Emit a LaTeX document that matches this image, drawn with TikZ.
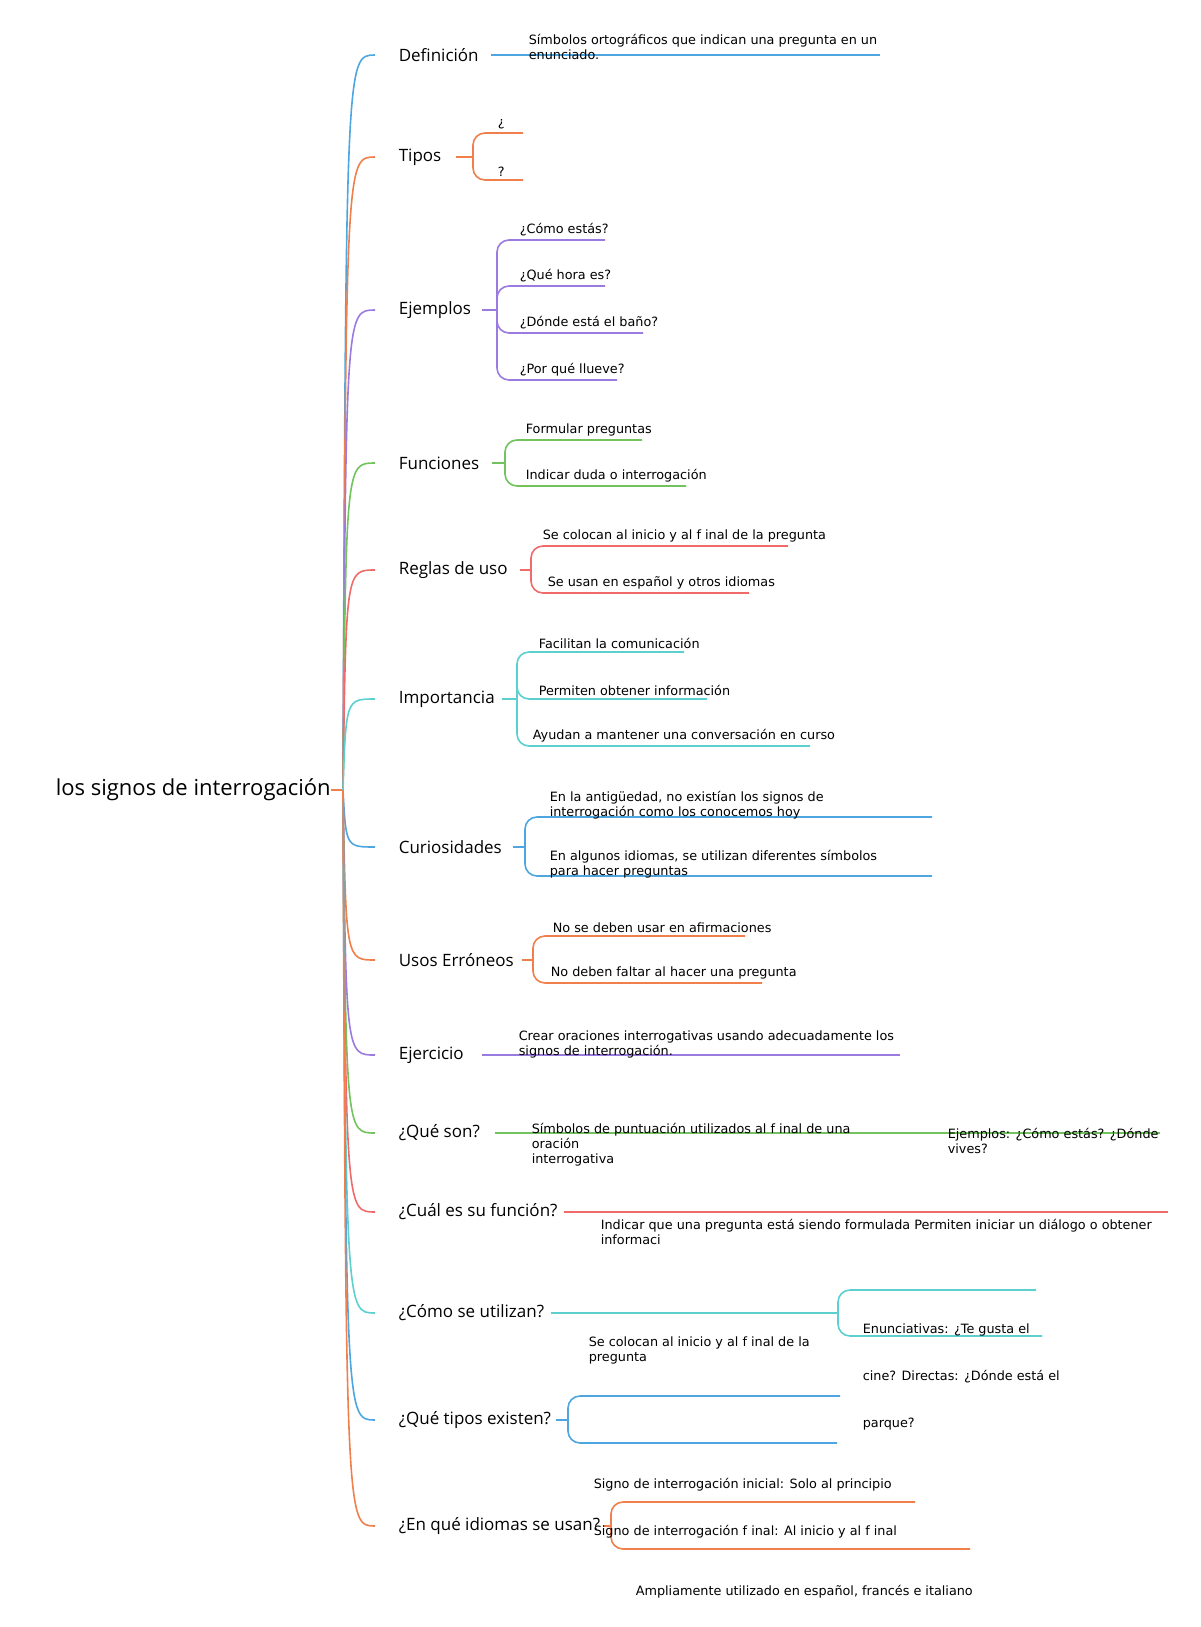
\documentclass[tikz,border=0pt]{standalone}
\usepackage{fontspec}
\setmainfont{DejaVu Sans}
\newfontfamily\lab{Open Sans}
\begin{document}
\begin{tikzpicture}[x=1pt,y=-1pt,line width=1.6pt,
  lb/.style={anchor=west,font=\lab\fontsize{17}{20}\selectfont,inner sep=0},
  tx/.style={anchor=south west,font=\fontsize{12.8}{15}\selectfont,inner sep=1pt,align=left},
  tn/.style={anchor=north west,font=\fontsize{12.8}{15}\selectfont,inner sep=0,align=left}]
\definecolor{cb}{HTML}{4DA6E0}\definecolor{co}{HTML}{F07F4C}\definecolor{cp}{HTML}{9B7BE0}
\definecolor{cg}{HTML}{72C35E}\definecolor{cr}{HTML}{F06A6A}\definecolor{ct}{HTML}{5CCFCF}
\useasboundingbox (0,0) rectangle (1200,1627);
\newcommand\ch[5]{\draw[#1,rounded corners=12pt] (#2,#3) |- (#5,#4);}
\node[anchor=west,inner sep=0,font=\lab\fontsize{22}{26}\selectfont] (root) at (55,790) {los signos de interrogación};
\coordinate (r) at (343,790);
\draw[co] (root.east) -- (r);
\foreach \y/\c/\t/\n in {55/cb/Definición/a,157/co/Tipos/b,310/cp/Ejemplos/c,463/cg/Funciones/d,570/cr/Reglas de uso/e,699/ct/Importancia/f,847/cb/Curiosidades/g,960/co/Usos Erróneos/h,1055/cp/Ejercicio/i,1133/cg/¿Qué son?/j,1212/cr/¿Cuál es su función?/k,1313/ct/¿Cómo se utilizan?/l,1420/cb/¿Qué tipos existen?/m,1526/co/¿En qué idiomas se usan?/n}{
  \node[lb] (\n) at (398,\y) {\t};
  \draw[\c] (r) .. controls (346,\y) .. (375,\y);
}
% Definicion
\draw[cb] (a.east)++(12,0) -- (880,55);
\node[tn] at (528,33) {Símbolos ortográficos que indican una pregunta en un\\enunciado.};
% Tipos
\draw[co] (b.east)++(14,0) -- (473,157);
\ch{co}{473}{157}{133}{523}\ch{co}{473}{157}{180}{523}
\node[tx] at (496,131) {¿};\node[tx] at (496,178) {?};
% Ejemplos
\draw[cp] (c.east)++(10,0) -- (497,310);
\foreach \y/\e/\t in {240/605/¿Cómo estás?,286/605/¿Qué hora es?,333/643/¿Dónde está el baño?,380/617/¿Por qué llueve?}{\ch{cp}{497}{310}{\y}{\e}\node[tx] at (518,\y-2) {\t};}
% Funciones
\draw[cg] (d.east)++(12,0) -- (505,463);
\ch{cg}{505}{463}{440}{642}\ch{cg}{505}{463}{486}{686}
\node[tx] at (524,438) {Formular preguntas};\node[tx] at (524,484) {Indicar duda o interrogación};
% Reglas
\draw[cr] (e.east)++(12,0) -- (531,570);
\ch{cr}{531}{570}{546}{788}\ch{cr}{531}{570}{593}{749}
\node[tx] at (541,544) {Se colocan al inicio y al f inal de la pregunta};
\node[tx] at (546,591) {Se usan en español y otros idiomas};
% Importancia
\draw[ct] (f.east)++(6,0) -- (517,699);
\ch{ct}{517}{699}{652}{684}\ch{ct}{517}{699}{699}{707}\ch{ct}{517}{699}{746}{810}
\node[tx] at (537,650) {Facilitan la comunicación};
\node[tx] at (537,697) {Permiten obtener información};
\node[tx] at (531,744) {Ayudan a mantener una conversación en curso};
% Curiosidades
\draw[cb] (g.east)++(10,0) -- (525,847);
\ch{cb}{525}{847}{817}{932}\ch{cb}{525}{847}{876}{932}
\node[tn] at (549,790) {En la antigüedad, no existían los signos de\\interrogación como los conocemos hoy};
\node[tn] at (549,849) {En algunos idiomas, se utilizan diferentes símbolos\\para hacer preguntas};
% Usos
\draw[co] (h.east)++(8,0) -- (533,960);
\ch{co}{533}{960}{936}{745}\ch{co}{533}{960}{983}{762}
\node[tx] at (551,934) {No se deben usar en afirmaciones};
\node[tx] at (549,981) {No deben faltar al hacer una pregunta};
% Ejercicio
\draw[cp] (i.east)++(17,0) -- (900,1055);
\node[tn] at (518,1030) {Crear oraciones interrogativas usando adecuadamente los\\signos de interrogación.};
% Que son
\draw[cg] (j.east)++(14,0) -- (1160,1133);
\node[tn] at (531,1122) {Símbolos de puntuación utilizados al f inal de una\\oración\\interrogativa};
\node[tn] at (947,1127) {Ejemplos: ¿Cómo estás? ¿Dónde\\vives?};
% Cual
\draw[cr] (k.east)++(6,0) -- (1168,1212);
\node[tn] at (600,1218) {Indicar que una pregunta está siendo formulada Permiten iniciar un diálogo o obtener\\informaci};
% Como
\draw[ct] (l.east)++(6,0) -- (838,1313);
\ch{ct}{838}{1313}{1290}{1036}\ch{ct}{838}{1313}{1336}{1042}
\node[tn] at (588,1336) {Se colocan al inicio y al f inal de la\\pregunta};
\node[tx] at (861,1338) {Enunciativas: ¿Te gusta el};
\node[tx] at (861,1385) {cine? Directas: ¿Dónde está el};
\node[tx] at (861,1432) {parque?};
% Que tipos
\draw[cb] (m.east)++(4,0) -- (568,1420);
\ch{cb}{568}{1420}{1396}{840}\ch{cb}{568}{1420}{1443}{837}
% En que
\draw[co] (n.east)++(2,0) -- (611,1526);
\ch{co}{611}{1526}{1502}{915}\ch{co}{611}{1526}{1549}{970}
\node[tx] at (592,1493) {Signo de interrogación inicial: Solo al principio};
\node[tx] at (592,1540) {Signo de interrogación f inal: Al inicio y al f inal};
\node[tx] at (634,1600) {Ampliamente utilizado en español, francés e italiano};
\end{tikzpicture}
\end{document}
